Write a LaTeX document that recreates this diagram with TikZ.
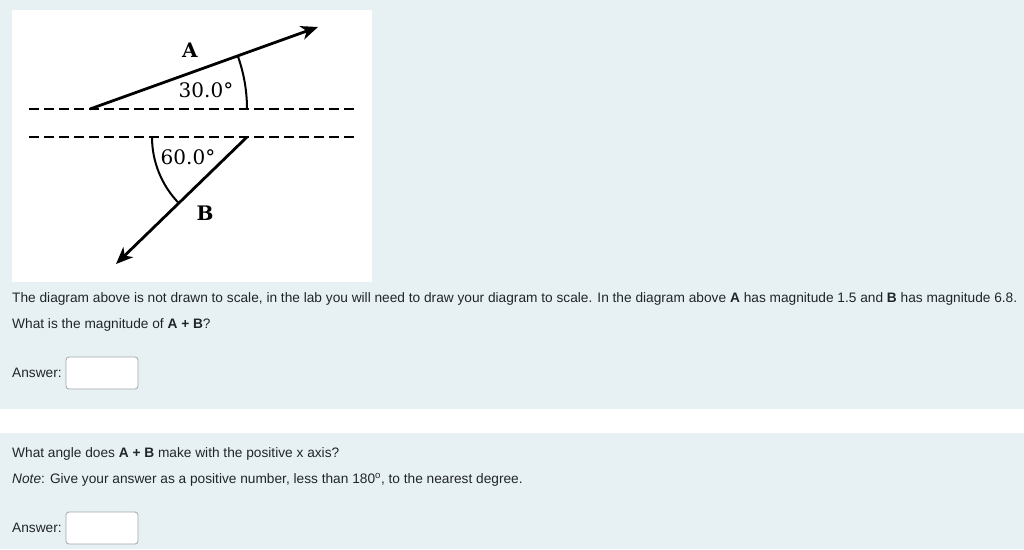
\documentclass[tikz,border=0pt]{standalone}
\usepackage{fontspec}
\setmainfont{Liberation Sans}
\newfontfamily\figfont{DejaVu Serif}
\usetikzlibrary{arrows.meta}
\definecolor{panelbg}{RGB}{231,241,244}
\definecolor{boxline}{RGB}{160,166,170}
\definecolor{txt}{RGB}{33,37,41}
\tikzset{
  vec/.style={line width=2.8pt,-{Stealth[length=17pt,width=14pt,inset=5pt]}},
  refline/.style={line width=2.8pt,dash pattern=on 10pt off 5pt},
  anglearc/.style={line width=2pt},
  fig/.style={font=\figfont\fontsize{20}{20}\selectfont,inner sep=0pt},
  qtext/.style={anchor=base west,inner sep=0pt,text=txt,font=\fontsize{13.7}{13.7}\selectfont},
  ansbox/.style={draw=boxline,line width=0.8pt,fill=white,rounded corners=3pt}
}
\begin{document}
\begin{tikzpicture}[x=1pt,y=1pt]
        % panels
        \fill[panelbg] (0,0) rectangle (1024,-549);
        \useasboundingbox (0,0) rectangle (1024,-549);
        \fill[white] (0,-409) rectangle (1024,-433);
        \fill[white] (12,-10) rectangle (372,-282);

        % dashed reference lines
        \coordinate (l1) at (29,-109);
        \coordinate (r1) at (355,-109);
        \coordinate (l2) at (29,-137);
        \coordinate (r2) at (355,-137);
        \draw[refline] (l1) -- (r1);
        \draw[refline] (l2) -- (r2);

        % vectors
        \coordinate (oA) at (90,-109);
        \coordinate (tA) at (318,-27);
        \coordinate (oB) at (247,-137);
        \coordinate (tB) at (116,-264);
        \draw[vec] (oA) -- (tA);
        \draw[vec] (oB) -- (tB);
        \draw[anglearc] ([shift={(0:157pt)}]oA) arc (0:19.8:157pt);
        \draw[anglearc] ([shift={(180:95pt)}]oB) arc (180:224.1:95pt);

        \node[fig] (A) at (190,-50) {\bfseries A};
        \node[fig] (angA) at (206,-90) {30.0°};
        \node[fig] (angB) at (188,-157) {60.0°};
        \node[fig] (B) at (205,-213) {\bfseries B};

        % question 1
        \node[qtext] (q1a) at (12,-302.5) {The diagram above is not drawn to scale, in the lab you will need to draw your diagram to scale. In the diagram above \textbf{A} has magnitude 1.5 and \textbf{B} has magnitude 6.8.};
        \node[qtext] (q1b) at (12,-328.5) {What is the magnitude of \textbf{A + B}?};
        \node[qtext] (ans1) at (12,-377.5) {Answer:};
        \draw[ansbox] (66,-357) rectangle (138,-389);

        % question 2
        \node[qtext] (q2a) at (12,-457.5) {What angle does \textbf{A + B} make with the positive x axis?};
        \node[qtext] (q2b) at (12,-483.5) {\textit{Note}: Give your answer as a positive number, less than 180\textsuperscript{o}, to the nearest degree.};
        \node[qtext] (ans2) at (12,-532.5) {Answer:};
        \draw[ansbox] (66,-512) rectangle (138,-544);
\end{tikzpicture}
\end{document}
